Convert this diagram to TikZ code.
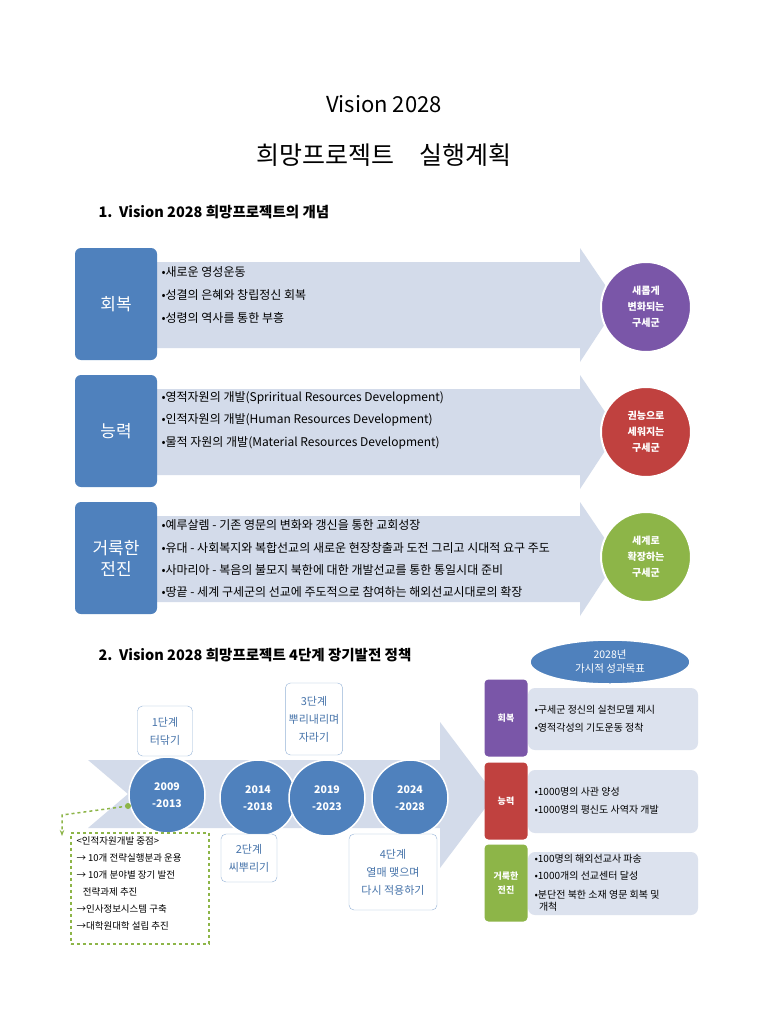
\documentclass[tikz,border=0pt]{standalone}
\usepackage{fontspec}
\setmainfont{Noto Sans CJK KR}
\usetikzlibrary{shapes.geometric,arrows.meta}
\definecolor{bluebox}{HTML}{4F81BD}
\definecolor{band}{HTML}{D3DBEA}
\definecolor{pur}{HTML}{7A56A8}
\definecolor{redc}{HTML}{C0413F}
\definecolor{grn}{HTML}{8DB548}
\definecolor{panel}{HTML}{DCE2EE}
\tikzset{
 lbox/.style={draw=none,fill=bluebox,rounded corners=6pt,text=white,font=\fontsize{17}{21}\selectfont,align=center},
 circ/.style={circle,draw=white,line width=2pt,text=white,font=\bfseries\fontsize{10}{16}\selectfont,align=center},
 bul/.style={anchor=west,font=\fontsize{12}{13}\selectfont},
 stg/.style={draw=bluebox!60,fill=white,rounded corners=5pt,text=bluebox!90!black,font=\fontsize{11}{18}\selectfont,align=center},
 ybox/.style={circle,fill=bluebox,draw=white,line width=1.5pt,text=white,font=\bfseries\fontsize{10.5}{17}\selectfont,align=center,minimum size=76pt},
 rb/.style={rounded corners=4pt,text=white,font=\bfseries\fontsize{9}{14}\selectfont,align=center,minimum width=43pt,minimum height=77pt},
 rp/.style={fill=panel,rounded corners=7pt},
 rt/.style={anchor=west,font=\fontsize{10}{12}\selectfont,align=left},
}
\begin{document}
\begin{tikzpicture}[x=1pt,y=-1pt]
\useasboundingbox (0,0) rectangle (768,1024);
\fill[white] (0,0) rectangle (768,1024);
\node (t1) at (384,104) {\fontsize{22}{26}\selectfont Vision 2028};
\node (t2) at (384,155) {\fontsize{25}{30}\selectfont 희망프로젝트\quad 실행계획};
\node[anchor=west,font=\bfseries\fontsize{14.5}{16}\selectfont] (h1) at (95,212) {1.\ \ Vision 2028 희망프로젝트의 개념};
% rows
\foreach \y/\c in {248/pur,375/redc,502/grn}{
 \fill[band] (150,\y+14) -- (580,\y+14) -- (580,\y) -- (618,\y+56) -- (580,\y+114) -- (580,\y+100) -- (150,\y+100) -- cycle;
}
\node[lbox,minimum width=82pt,minimum height=112pt] (b1) at (116,304) {회복};
\node[lbox,minimum width=82pt,minimum height=112pt] (b2) at (116,431) {능력};
\node[lbox,minimum width=82pt,minimum height=112pt] (b3) at (116,558) {거룩한\\전진};
\node[circ,fill=pur,minimum size=90pt] (c1) at (646,307) {새롭게\\변화되는\\구세군};
\node[circ,fill=redc,minimum size=90pt] (c2) at (646,432) {권능으로\\세워지는\\구세군};
\node[circ,fill=grn,minimum size=90pt] (c3) at (646,557) {세계로\\확장하는\\구세군};
\node[bul] (r1a) at (158,272) {•새로운 영성운동};
\node[bul] (r1b) at (158,295) {•성결의 은혜와 창립정신 회복};
\node[bul] (r1c) at (158,318) {•성령의 역사를 통한 부흥};
\node[bul] (r2a) at (158,398) {•영적자원의 개발(Spriritual Resources Development)};
\node[bul] (r2b) at (158,420) {•인적자원의 개발(Human Resources Development)};
\node[bul] (r2c) at (158,443) {•물적 자원의 개발(Material Resources Development)};
\node[bul] (r3a) at (158,525) {•예루살렘 - 기존 영문의 변화와 갱신을 통한 교회성장};
\node[bul] (r3b) at (158,548) {•유대 - 사회복지와 복합선교의 새로운 현장창출과 도전 그리고 시대적 요구 주도};
\node[bul] (r3c) at (158,570) {•사마리아 - 복음의 불모지 북한에 대한 개발선교를 통한 통일시대 준비};
\node[bul] (r3d) at (158,592) {•땅끝 - 세계 구세군의 선교에 주도적으로 참여하는 해외선교시대로의 확장};
\node[anchor=west,font=\bfseries\fontsize{14.5}{16}\selectfont] (h2) at (95,655) {2.\ \ Vision 2028 희망프로젝트 4단계 장기발전 정책};
% timeline arrow
\fill[band] (88,760) -- (440,760) -- (440,722) -- (495,795) -- (440,868) -- (440,828) -- (88,828) -- (128,794) -- cycle;
\node[ybox] (y1) at (167,795) {2009\\-2013};
\node[ybox] (y2) at (258,798) {2014\\-2018};
\node[ybox] (y3) at (327,798) {2019\\-2023};
\node[ybox] (y4) at (410,798) {2024\\-2028};
\node[stg,minimum width=55pt,minimum height=50pt] (s1) at (165,731) {1단계\\터닦기};
\node[stg,minimum width=54pt,minimum height=72pt] (s3) at (314,719) {3단계\\뿌리내리며\\자라기};
\node[stg,minimum width=56pt,minimum height=48pt] (s2) at (249,858) {2단계\\씨뿌리기};
\node[stg,minimum width=88pt,minimum height=76pt] (s4) at (393,872) {4단계\\열매 맺으며\\다시 적용하기};
\node[draw=grn,dashed,line width=1.5pt,minimum width=138pt,minimum height=111pt,anchor=north west] (dg) at (70,832) {};
\node[anchor=north west,font=\fontsize{9.5}{17}\selectfont,align=left] (dt) at (73,833) {<인적자원개발 중점>\\→ 10개 전략실행분과 운용\\→ 10개 분야별 장기 발전\\\ \ \ 전략과제 추진\\→인사정보시스템 구축\\→대학원대학 설립 추진};
\coordinate (d0) at (128,806);
\fill[grn] (d0) circle (3pt);
\draw[grn,dashed,line width=1.5pt,-{Stealth[length=6pt]}] (d0) -- (62,815) -- (62,836);
% right side
\fill[rp] (528,688) rectangle (698,750);
\fill[rp] (528,770) rectangle (698,833);
\fill[rp] (528,852) rectangle (698,915);
\node[rb,fill=pur] (g1) at (506,718) {회복};
\node[rb,fill=redc] (g2) at (506,801) {능력};
\node[rb,fill=grn] (g3) at (506,883) {거룩한\\전진};
\node[ellipse,fill=bluebox,draw=white,line width=1.5pt,minimum width=160pt,minimum height=44pt,text=white,font=\fontsize{10.5}{14}\selectfont,align=center] (el) at (610,662) {2028년\\가시적 성과목표};
\node[rt] (p1a) at (531,710) {•구세군 정신의 실천모델 제시};
\node[rt] (p1b) at (531,728) {•영적각성의 기도운동 정착};
\node[rt] (p2a) at (531,792) {•1000명의 사관 양성};
\node[rt] (p2b) at (531,810) {•1000명의 평신도 사역자 개발};
\node[rt] (p3a) at (531,859) {•100명의 해외선교사 파송};
\node[rt] (p3b) at (531,876) {•1000개의 선교센터 달성};
\node[rt] (p3c) at (531,901) {•분단전 북한 소재 영문 회복 및\\\ \ 개척};
\end{tikzpicture}
\end{document}
